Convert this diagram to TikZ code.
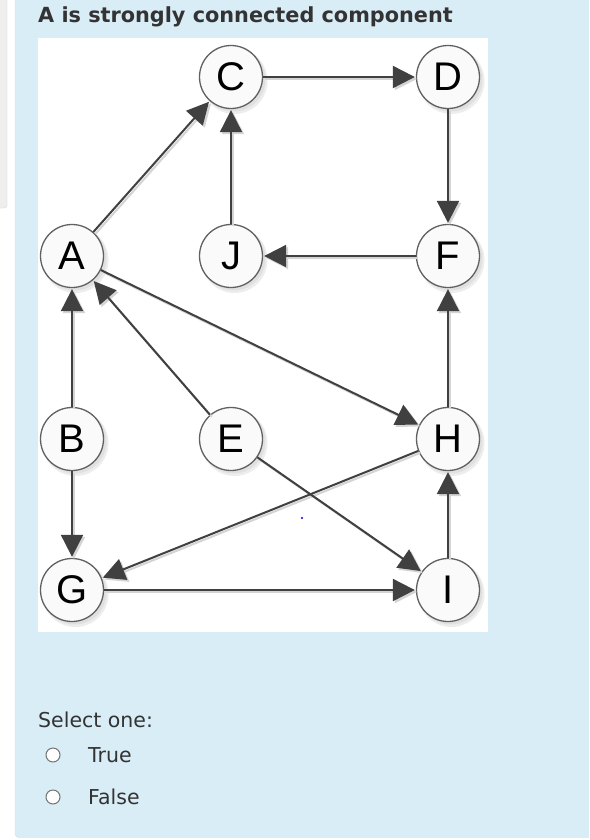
\documentclass[tikz,border=0pt]{standalone}
\usepackage{fontspec}
\setmainfont{DejaVu Sans}
\newfontfamily\nodefont{Liberation Sans}
\usetikzlibrary{arrows.meta}
\definecolor{panelblue}{HTML}{D9EDF7}
\definecolor{panelborder}{HTML}{C4E3F0}
\definecolor{txt}{HTML}{333333}
\definecolor{edgecol}{HTML}{404040}
\definecolor{grayside}{HTML}{EEEEEE}
\begin{document}
\begin{tikzpicture}[x=1pt,y=-1pt,
  vertex/.style={circle, draw=black!62, line width=1.3pt, fill=gray!4, minimum size=63pt, inner sep=0pt, font=\nodefont\fontsize{40}{40}\selectfont, text=black},
  edge/.style={draw=edgecol, line width=2pt, -{Triangle[length=22pt,width=22pt]}, shorten >=1pt},
  eshadow/.style={draw=black!17, line width=2pt, -{Triangle[length=22pt,width=22pt]}, shorten >=1pt, transform canvas={shift={(2pt,-2pt)}}},
  radio/.style={circle, draw=black!55, line width=1pt, fill=white, minimum size=14pt, inner sep=0pt},
  plain/.style={inner sep=0pt, text=txt, font=\fontsize{20.5}{24}\selectfont}
]
\useasboundingbox (0,0) rectangle (589,840);
\begin{scope}
\clip (0,0) rectangle (589,840);
\fill[white] (0,0) rectangle (589,840);
% left grey panel
\draw[fill=grayside, draw=black!15, rounded corners=3pt] (-10,-10) rectangle (7,208);
% blue panel
\draw[fill=panelblue, draw=panelborder, rounded corners=4pt] (15,-10) rectangle (600,837.5);
% white picture area
\fill[white] (38,38) rectangle (488,632);
\end{scope}

% title
\node[plain, anchor=base west, font=\bfseries\fontsize{20.8}{24}\selectfont] (title) at (38,23) {A is strongly connected component};

% node shadows
\foreach \x/\y in {231/77,448/77,72/256,231/256,448/256,72/439,231/439,448/439,72/590,448/590}{
  \fill[black!7] (\x+3.5,\y+4) circle (33pt);
  \fill[black!12] (\x+2.5,\y+2.5) circle (32pt);
}
% nodes
\foreach \n/\x/\y in {C/231/77,D/448/77,A/72/256,J/231/256,F/448/256,B/72/439,E/231/439,H/448/439,G/72/590,I/448/590}{
  \node[vertex] (\n) at (\x,\y) {\n};
}

% edge shadows
\foreach \a/\b in {C/D,D/F,F/J,J/C,A/C,B/A,E/A,A/H,B/G,H/G,E/I,G/I,I/H,H/F}{
  \draw[eshadow] (\a) -- (\b);
}
% edges
\foreach \a/\b in {C/D,D/F,F/J,J/C,A/C,B/A,E/A,A/H,B/G,H/G,E/I,G/I,I/H,H/F}{
  \draw[edge] (\a) -- (\b);
}

% stray dot
\fill[blue!85!black] (302,518) circle (1.1pt);

% answer area
\node[plain, anchor=base west] (sel) at (38,727.5) {Select one:};
\node[radio] (r1) at (53,755) {};
\node[radio] (r2) at (53,797) {};
\node[plain, anchor=base west] (t1) at (88,762.5) {True};
\node[plain, anchor=base west] (t2) at (88,804.5) {False};
\end{tikzpicture}
\end{document}
